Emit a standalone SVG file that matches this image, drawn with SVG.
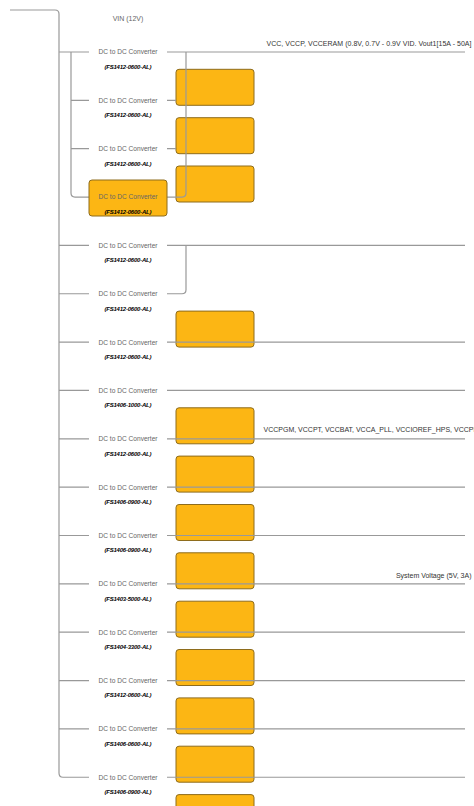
<svg xmlns="http://www.w3.org/2000/svg" width="474" height="806" viewBox="0 0 474 806">
<style>
.c{fill:none;stroke:#999;stroke-width:1.2}
.b{fill:#FCB614;stroke:#8E6C1C;stroke-width:1}
.t{font-family:"Liberation Sans",Arial,sans-serif;font-size:6.6px;fill:#666;text-anchor:middle}
.p{font-family:"Liberation Sans",Arial,sans-serif;font-size:6px;font-weight:bold;font-style:italic;fill:#000;text-anchor:middle}
.l{font-family:"Liberation Sans",Arial,sans-serif;font-size:7px;fill:#333}
</style>
<rect width="474" height="806" fill="#fff"/>
<g id="boxes">
<rect id="box2" class="b" x="176" y="69.3" width="78" height="36" rx="3"/>
<rect id="box3" class="b" x="176" y="117.7" width="78" height="36" rx="3"/>
<rect id="box4r" class="b" x="176" y="166" width="78" height="36" rx="3"/>
<rect id="box7" class="b" x="176" y="311.1" width="78" height="36" rx="3"/>
<rect id="box9" class="b" x="176" y="407.8" width="78" height="36" rx="3"/>
<rect id="box10" class="b" x="176" y="456.1" width="78" height="36" rx="3"/>
<rect id="box11" class="b" x="176" y="504.5" width="78" height="36" rx="3"/>
<rect id="box12" class="b" x="176" y="552.8" width="78" height="36" rx="3"/>
<rect id="box13" class="b" x="176" y="601.2" width="78" height="36" rx="3"/>
<rect id="box14" class="b" x="176" y="649.5" width="78" height="36" rx="3"/>
<rect id="box15" class="b" x="176" y="697.9" width="78" height="36" rx="3"/>
<rect id="box16" class="b" x="176" y="746.2" width="78" height="36" rx="3"/>
<rect id="box17" class="b" x="176" y="794.6" width="78" height="36" rx="3"/>
</g>
<g id="connectors">
<path class="c" d="M10 10 H55 Q59 10 59 14 V773 Q59 777.25 63 777.25 H89"/>
<path class="c" d="M59 52 H89 M71 52 V193 Q71 197.05 75 197.05 H89 M71 100.35 H89 M71 148.7 H89"/>
<path class="c" d="M59 245.4 H89 M59 293.75 H89 M59 342.1 H89 M59 390.45 H89 M59 438.8 H89 M59 487.15 H89 M59 535.5 H89 M59 583.85 H89 M59 632.2 H89 M59 680.55 H89 M59 728.9 H89"/>
<path class="c" d="M167 52 H465 M186 52 V193 Q186 197.05 182 197.05 H167 M167 100.35 H176 M167 148.7 H176"/>
<path class="c" d="M167 245.4 H465 M186 245.4 V289.75 Q186 293.75 182 293.75 H167"/>
<path class="c" d="M167 342.1 H465 M167 390.45 H465 M167 438.8 H465 M167 487.15 H465 M167 535.5 H465 M167 583.85 H465 M167 632.2 H465 M167 680.55 H465 M167 728.9 H465 M167 777.25 H465"/>
</g>
<g id="vin"><text class="t" x="128" y="20.5" style="font-size:7px">VIN (12V)</text></g>
<g id="n1"><text class="t" x="128" y="54.4">DC to DC Converter</text><text class="p" x="128" y="68.9" textLength="47">(FS1412-0600-AL)</text></g>
<g id="n2"><text class="t" x="128" y="102.7">DC to DC Converter</text><text class="p" x="128" y="117.2" textLength="47">(FS1412-0600-AL)</text></g>
<g id="n3"><text class="t" x="128" y="151.1">DC to DC Converter</text><text class="p" x="128" y="165.6" textLength="47">(FS1412-0600-AL)</text></g>
<g id="n4"><rect class="b" x="89" y="180" width="78" height="36" rx="3"/><text class="t" x="128" y="199.4">DC to DC Converter</text><text class="p" x="128" y="213.9" textLength="47">(FS1412-0600-AL)</text></g>
<g id="n5"><text class="t" x="128" y="247.8">DC to DC Converter</text><text class="p" x="128" y="262.3" textLength="47">(FS1412-0600-AL)</text></g>
<g id="n6"><text class="t" x="128" y="296.1">DC to DC Converter</text><text class="p" x="128" y="310.6" textLength="47">(FS1412-0600-AL)</text></g>
<g id="n7"><text class="t" x="128" y="344.5">DC to DC Converter</text><text class="p" x="128" y="359" textLength="47">(FS1412-0600-AL)</text></g>
<g id="n8"><text class="t" x="128" y="392.8">DC to DC Converter</text><text class="p" x="128" y="407.3" textLength="47">(FS1406-1000-AL)</text></g>
<g id="n9"><text class="t" x="128" y="441.2">DC to DC Converter</text><text class="p" x="128" y="455.7" textLength="47">(FS1412-0600-AL)</text></g>
<g id="n10"><text class="t" x="128" y="489.5">DC to DC Converter</text><text class="p" x="128" y="504" textLength="47">(FS1406-0900-AL)</text></g>
<g id="n11"><text class="t" x="128" y="537.9">DC to DC Converter</text><text class="p" x="128" y="552.4" textLength="47">(FS1406-0900-AL)</text></g>
<g id="n12"><text class="t" x="128" y="586.2">DC to DC Converter</text><text class="p" x="128" y="600.7" textLength="47">(FS1403-5000-AL)</text></g>
<g id="n13"><text class="t" x="128" y="634.6">DC to DC Converter</text><text class="p" x="128" y="649.1" textLength="47">(FS1404-3300-AL)</text></g>
<g id="n14"><text class="t" x="128" y="682.9">DC to DC Converter</text><text class="p" x="128" y="697.4" textLength="47">(FS1412-0600-AL)</text></g>
<g id="n15"><text class="t" x="128" y="731.3">DC to DC Converter</text><text class="p" x="128" y="745.8" textLength="47">(FS1406-0600-AL)</text></g>
<g id="n16"><text class="t" x="128" y="779.6">DC to DC Converter</text><text class="p" x="128" y="794.1" textLength="47">(FS1406-0900-AL)</text></g>
<g id="labels">
<text class="l" x="266.5" y="46.3" textLength="205">VCC, VCCP, VCCERAM (0.8V, 0.7V - 0.9V VID. Vout1[15A - 50A]</text>
<text class="l" x="263.5" y="432">VCCPGM, VCCPT, VCCBAT, VCCA_PLL, VCCIOREF_HPS, VCCPLL_HPS</text>
<text class="l" x="471.5" y="578" text-anchor="end">System Voltage (5V, 3A)</text>
</g>
</svg>
